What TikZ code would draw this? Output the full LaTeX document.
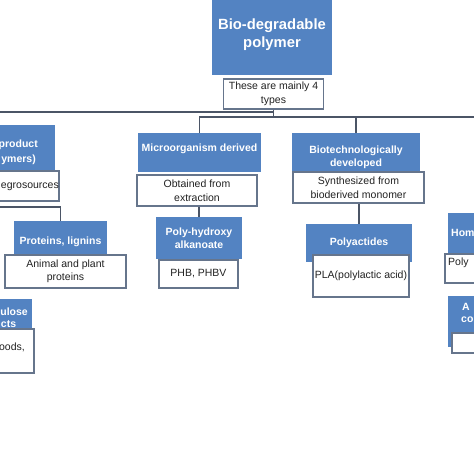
\documentclass[tikz,border=0pt]{standalone}
\usepackage{fontspec}
\setmainfont{Liberation Sans}
\definecolor{boxblue}{HTML}{5383C2}
\definecolor{edgegray}{HTML}{66758C}
\definecolor{linegray}{HTML}{4B5566}
\definecolor{textdark}{HTML}{222222}
\tikzset{
  bluebox/.style={rectangle, fill=boxblue, draw=none, text=white, font=\bfseries\fontsize{10.5}{13}\selectfont, align=center, inner sep=0pt},
  whitebox/.style={rectangle, fill=white, draw=edgegray, line width=1.5pt, text=textdark, font=\fontsize{10.5}{13.5}\selectfont, align=center, inner sep=0pt},
  bfrag/.style={inner sep=0pt, text=white, font=\bfseries\fontsize{10.5}{13}\selectfont},
  wfrag/.style={inner sep=0pt, text=textdark, font=\fontsize{10.5}{13.5}\selectfont},
  conn/.style={draw=linegray, line width=1.8pt}
}
\begin{document}
\begin{tikzpicture}[x=1pt,y=-1pt]
\useasboundingbox (0,0) rectangle (474,474);
\clip (0,0) rectangle (474,474);
\fill[white] (0,0) rectangle (474,474);
% root
\node[bluebox, minimum width=120pt, minimum height=80pt, font=\bfseries\fontsize{14.8}{18}\selectfont] (root) at (272,35) {Bio-degradable\\polymer};
\node[whitebox, minimum width=100pt, minimum height=30pt] (types) at (273.5,94) {These are mainly 4\\types};
\coordinate (busL) at (-10,112);
\coordinate (busR) at (484,117);
% left column
\node[bluebox, minimum width=75pt, minimum height=55pt] (bp) at (17.5,152.5) {};
\node[bfrag, anchor=east] (bp1) at (38,145) {product};
\node[bfrag, anchor=east] (bp2) at (36,160) {ymers)};
\node[whitebox, minimum width=64pt, minimum height=30pt] (agro) at (27,186) {};
\node[wfrag, anchor=west] (agro1) at (0.8,187) {egrosources};
\coordinate (lc) at (-10,207);
\node[bluebox, minimum width=93pt, minimum height=42pt] (prot) at (60.5,242) {Proteins, lignins};
\node[whitebox, minimum width=121pt, minimum height=33pt] (anim) at (65.5,271.5) {Animal and plant\\proteins};
\node[bluebox, minimum width=52pt, minimum height=40pt] (cel) at (6,319) {};
\node[bfrag, anchor=east] (cel1) at (28,312) {ulose};
\node[bfrag, anchor=west] (cel2) at (0.8,324) {cts};
\node[whitebox, minimum width=54pt, minimum height=44pt] (food) at (7,351) {};
\node[wfrag, anchor=east] (food1) at (25,347) {oods,};
% microorganism
\node[bluebox, minimum width=123pt, minimum height=39pt, text depth=9pt] (micro) at (199.5,152.5) {Microorganism derived};
\node[whitebox, minimum width=120pt, minimum height=31pt] (obt) at (197,190.5) {Obtained from\\extraction};
\node[bluebox, minimum width=86pt, minimum height=42pt] (phx) at (199,238) {Poly-hydroxy\\alkanoate};
\node[whitebox, minimum width=79pt, minimum height=28pt] (phb) at (198.5,274) {PHB, PHBV};
% biotech
\node[bluebox, minimum width=128pt, minimum height=49pt] (bio) at (356,157.5) {Biotechnologically\\developed};
\node[whitebox, minimum width=131pt, minimum height=31pt] (syn) at (358.5,187.5) {Synthesized from\\bioderived monomer};
\node[bluebox, minimum width=106pt, minimum height=38pt] (pla) at (359,243) {Polyactides};
\node[whitebox, minimum width=96pt, minimum height=42pt] (plaw) at (361,276) {PLA(polylactic acid)};
% right column
\node[bluebox, minimum width=40pt, minimum height=40pt] (hom) at (468,233) {};
\node[bfrag, anchor=west] (hom1) at (451,233) {Hom};
\node[whitebox, minimum width=42pt, minimum height=29pt] (homw) at (466,268.5) {};
\node[wfrag, anchor=west] (homw1) at (448,263) {Poly};
\node[bluebox, minimum width=40pt, minimum height=51pt] (aco) at (468,321.5) {};
\node[bfrag, anchor=west] (aco1) at (462,307) {A};
\node[bfrag, anchor=west] (aco2) at (461,320) {co};
\node[whitebox, minimum width=36pt, minimum height=20pt] (acow) at (470,343) {};
% connectors
\draw[conn] (types.south) |- (busL);
\draw[conn] (types.south) |- (busR);
\draw[conn] (micro.north) |- (busR);
\draw[conn] (bio.north) -- (bio.north |- busR);
\draw[conn] (lc) -| (prot.north);
\draw[conn] (phx.north |- obt.south) -- (phx.north);
\draw[conn] (pla.north |- syn.south) -- (pla.north);
\end{tikzpicture}
\end{document}
